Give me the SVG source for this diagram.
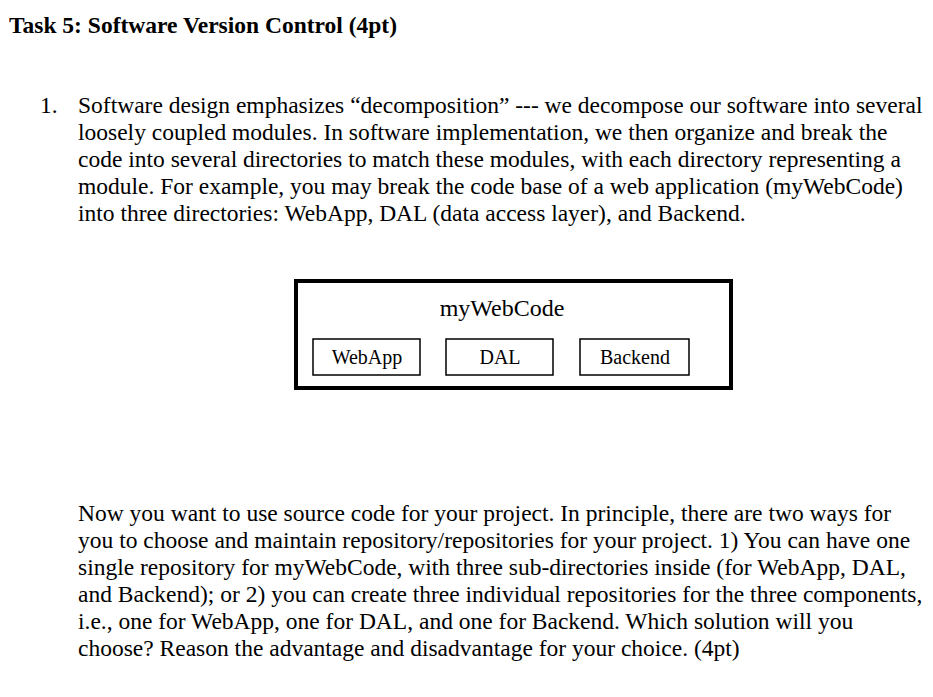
<svg xmlns="http://www.w3.org/2000/svg" width="933" height="697" viewBox="0 0 933 697">
<style>
text{font-family:"Liberation Serif",serif;font-size:23.5px;fill:#000}
.t{font-weight:bold;font-size:23.5px}
.m{font-size:24px}
.n{font-size:20px}
.b{fill:#fff;stroke:#000;stroke-width:1.5}
</style>
<rect width="933" height="697" fill="#fff"/>
<text class="t" x="9" y="33">Task 5: Software Version Control (4pt)</text>
<text x="40" y="113">1.</text>
<text x="78" y="113">Software design emphasizes “decomposition” --- we decompose our software into several</text>
<text x="78" y="140">loosely coupled modules. In software implementation, we then organize and break the</text>
<text x="78" y="167">code into several directories to match these modules, with each directory representing a</text>
<text x="78" y="194">module. For example, you may break the code base of a web application (myWebCode)</text>
<text x="78" y="221">into three directories: WebApp, DAL (data access layer), and Backend.</text>
<g id="myWebCode">
<rect x="296" y="281" width="435" height="107" fill="#fff" stroke="#000" stroke-width="4"/>
<text class="m" x="502" y="316" text-anchor="middle">myWebCode</text>
</g>
<g id="WebApp"><rect class="b" x="313" y="339" width="107" height="36"/><text class="n" x="367" y="364" text-anchor="middle">WebApp</text></g>
<g id="DAL"><rect class="b" x="446" y="339" width="107" height="36"/><text class="n" x="500" y="364" text-anchor="middle">DAL</text></g>
<g id="Backend"><rect class="b" x="580" y="339" width="109" height="36"/><text class="n" x="635" y="364" text-anchor="middle">Backend</text></g>
<g id="connectors"/>
<text x="78" y="521">Now you want to use source code for your project. In principle, there are two ways for</text>
<text x="78" y="548">you to choose and maintain repository/repositories for your project. 1) You can have one</text>
<text x="78" y="575">single repository for myWebCode, with three sub-directories inside (for WebApp, DAL,</text>
<text x="78" y="602">and Backend); or 2) you can create three individual repositories for the three components,</text>
<text x="78" y="629">i.e., one for WebApp, one for DAL, and one for Backend.  Which solution will you</text>
<text x="78" y="656">choose? Reason the advantage and disadvantage for your choice. (4pt)</text>
</svg>
